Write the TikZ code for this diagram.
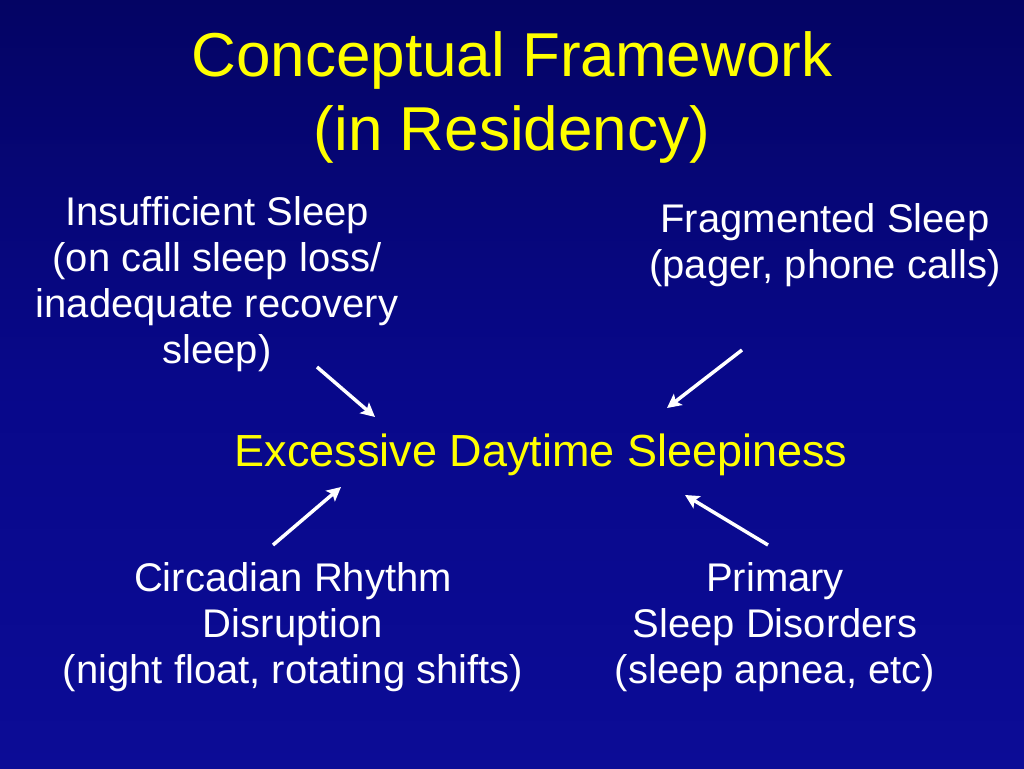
\documentclass[tikz,border=0pt]{standalone}
\usepackage{fontspec}
\setmainfont{Liberation Sans}
\usepackage{xcolor}
\usepackage{tikz}
\usetikzlibrary{positioning, arrows.meta}

\definecolor{bgtop}{RGB}{4,4,100}
\definecolor{bgmid}{RGB}{8,8,138}
\definecolor{bgbottom}{RGB}{12,12,150}
\definecolor{titleyellow}{RGB}{255,255,0}

\begin{document}
\begin{tikzpicture}[
  x=1pt, y=-1pt,
  every node/.style={align=center, inner sep=0pt, text=white},
  body/.style={font=\fontsize{40}{46}\selectfont},
  headline/.style={font=\fontsize{62}{74}\selectfont, text=titleyellow},
  link/.style={draw=white, line width=3.5pt, -{Stealth[length=14pt, width=14pt, inset=3pt]}}
]

% Background
\useasboundingbox (0,0) rectangle (1024,768);
\shade[top color=bgtop, bottom color=bgbottom, middle color=bgmid] (0,0) rectangle (1024,768);

% Title and causes
\node[headline] (title) at (512,97) {Conceptual Framework\\(in Residency)};
\node[body] (insufficient) at (217,284) {Insufficient Sleep\\(on call sleep loss/\\inadequate recovery\\sleep)};
\node[body] (fragmented) at (825,245) {Fragmented Sleep\\(pager, phone calls)};
\node[body, font=\fontsize{45}{52}\selectfont, text=titleyellow] (sleepiness) at (541,455) {Excessive Daytime Sleepiness};
\node[body] (circadian) at (293,627) {Circadian Rhythm\\Disruption\\(night float, rotating shifts)};
\node[body] (primary) at (775,627) {Primary\\Sleep Disorders\\(sleep apnea, etc)};

% Arrow ends
\coordinate (insufficientend) at (317,367);
\coordinate (insufficienttip) at (375,417);
\coordinate (fragmentedend) at (742,350);
\coordinate (fragmentedtip) at (667,408);
\coordinate (circadianend) at (273,545);
\coordinate (circadiantip) at (341,487);
\coordinate (primaryend) at (768,545);
\coordinate (primarytip) at (685,495);

% Connections
\draw[link] (insufficientend) -- (insufficienttip);
\draw[link] (fragmentedend) -- (fragmentedtip);
\draw[link] (circadianend) -- (circadiantip);
\draw[link] (primaryend) -- (primarytip);

\end{tikzpicture}
\end{document}
